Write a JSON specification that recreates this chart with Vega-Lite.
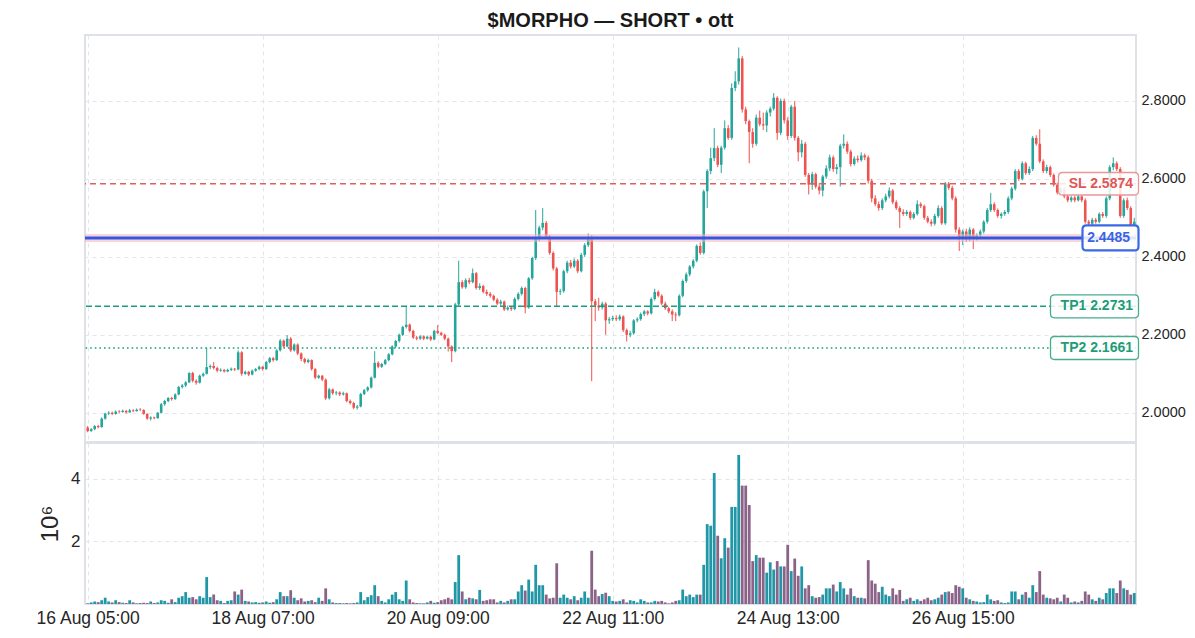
{
  "$schema": "https://vega.github.io/schema/vega-lite/v6.json",
  "background": "white",
  "padding": {"left": 34, "top": 10, "right": 5, "bottom": 5},
  "config": {
    "font": "Liberation Sans",
    "view": {"stroke": "#dfe1e8", "strokeWidth": 2},
    "axis": {"domain": false, "ticks": false, "gridColor": "#e3e5ea", "gridDash": [4, 4], "gridWidth": 1, "labelColor": "#262626"}
  },
  "datasets": {
    "levels": [
      {"name": "SL", "label": "SL 2.5874", "price": 2.5874},
      {"name": "Entry", "label": "2.4485", "price": 2.4485},
      {"name": "TP1", "label": "TP1 2.2731", "price": 2.2731},
      {"name": "TP2", "label": "TP2 2.1661", "price": 2.1661}
    ],
    "ohlc": [
      {"t":"2025-08-16T05:00","o":1.962,"h":1.966,"l":1.95,"c":1.953,"v":0.02},
      {"t":"2025-08-16T06:00","o":1.953,"h":1.961,"l":1.951,"c":1.958,"v":0.05},
      {"t":"2025-08-16T07:00","o":1.958,"h":1.968,"l":1.955,"c":1.966,"v":0.08},
      {"t":"2025-08-16T08:00","o":1.966,"h":1.969,"l":1.96,"c":1.963,"v":0.06},
      {"t":"2025-08-16T09:00","o":1.963,"h":1.988,"l":1.962,"c":1.985,"v":0.12},
      {"t":"2025-08-16T10:00","o":1.985,"h":2.0,"l":1.982,"c":1.998,"v":0.2},
      {"t":"2025-08-16T11:00","o":1.998,"h":2.004,"l":1.994,"c":2.0,"v":0.08},
      {"t":"2025-08-16T12:00","o":2.0,"h":2.003,"l":1.994,"c":1.997,"v":0.05},
      {"t":"2025-08-16T13:00","o":1.997,"h":2.006,"l":1.995,"c":2.003,"v":0.12},
      {"t":"2025-08-16T14:00","o":2.003,"h":2.007,"l":1.999,"c":2.002,"v":0.06},
      {"t":"2025-08-16T15:00","o":2.002,"h":2.008,"l":2.0,"c":2.005,"v":0.04},
      {"t":"2025-08-16T16:00","o":2.005,"h":2.007,"l":1.998,"c":2.001,"v":0.03},
      {"t":"2025-08-16T17:00","o":2.001,"h":2.01,"l":2.0,"c":2.006,"v":0.12},
      {"t":"2025-08-16T18:00","o":2.006,"h":2.009,"l":2.002,"c":2.004,"v":0.05},
      {"t":"2025-08-16T19:00","o":2.004,"h":2.011,"l":2.003,"c":2.008,"v":0.02},
      {"t":"2025-08-16T20:00","o":2.008,"h":2.012,"l":2.004,"c":2.007,"v":0.03},
      {"t":"2025-08-16T21:00","o":2.007,"h":2.009,"l":1.995,"c":1.997,"v":0.04},
      {"t":"2025-08-16T22:00","o":1.997,"h":1.999,"l":1.982,"c":1.985,"v":0.03},
      {"t":"2025-08-16T23:00","o":1.985,"h":1.991,"l":1.98,"c":1.988,"v":0.08},
      {"t":"2025-08-17T00:00","o":1.988,"h":1.99,"l":1.983,"c":1.986,"v":0.03},
      {"t":"2025-08-17T01:00","o":1.986,"h":2.002,"l":1.985,"c":2.0,"v":0.05},
      {"t":"2025-08-17T02:00","o":2.0,"h":2.025,"l":1.998,"c":2.022,"v":0.12},
      {"t":"2025-08-17T03:00","o":2.022,"h":2.033,"l":2.018,"c":2.03,"v":0.1},
      {"t":"2025-08-17T04:00","o":2.03,"h":2.04,"l":2.027,"c":2.038,"v":0.04},
      {"t":"2025-08-17T05:00","o":2.038,"h":2.041,"l":2.031,"c":2.035,"v":0.15},
      {"t":"2025-08-17T06:00","o":2.035,"h":2.05,"l":2.033,"c":2.047,"v":0.06},
      {"t":"2025-08-17T07:00","o":2.047,"h":2.069,"l":2.045,"c":2.066,"v":0.2},
      {"t":"2025-08-17T08:00","o":2.066,"h":2.074,"l":2.062,"c":2.07,"v":0.25},
      {"t":"2025-08-17T09:00","o":2.07,"h":2.081,"l":2.066,"c":2.078,"v":0.38},
      {"t":"2025-08-17T10:00","o":2.078,"h":2.104,"l":2.076,"c":2.102,"v":0.2},
      {"t":"2025-08-17T11:00","o":2.102,"h":2.105,"l":2.078,"c":2.082,"v":0.22},
      {"t":"2025-08-17T12:00","o":2.082,"h":2.086,"l":2.072,"c":2.077,"v":0.15},
      {"t":"2025-08-17T13:00","o":2.077,"h":2.098,"l":2.075,"c":2.095,"v":0.25},
      {"t":"2025-08-17T14:00","o":2.095,"h":2.103,"l":2.092,"c":2.1,"v":0.2},
      {"t":"2025-08-17T15:00","o":2.1,"h":2.167,"l":2.098,"c":2.117,"v":0.86},
      {"t":"2025-08-17T16:00","o":2.117,"h":2.124,"l":2.112,"c":2.12,"v":0.22},
      {"t":"2025-08-17T17:00","o":2.12,"h":2.13,"l":2.111,"c":2.115,"v":0.3},
      {"t":"2025-08-17T18:00","o":2.115,"h":2.118,"l":2.104,"c":2.108,"v":0.12},
      {"t":"2025-08-17T19:00","o":2.108,"h":2.114,"l":2.105,"c":2.11,"v":0.1},
      {"t":"2025-08-17T20:00","o":2.11,"h":2.112,"l":2.103,"c":2.106,"v":0.03},
      {"t":"2025-08-17T21:00","o":2.106,"h":2.113,"l":2.104,"c":2.11,"v":0.1},
      {"t":"2025-08-17T22:00","o":2.11,"h":2.116,"l":2.107,"c":2.113,"v":0.12},
      {"t":"2025-08-17T23:00","o":2.113,"h":2.115,"l":2.107,"c":2.111,"v":0.4},
      {"t":"2025-08-18T00:00","o":2.111,"h":2.16,"l":2.109,"c":2.155,"v":0.3},
      {"t":"2025-08-18T01:00","o":2.155,"h":2.158,"l":2.095,"c":2.1,"v":0.46},
      {"t":"2025-08-18T02:00","o":2.1,"h":2.108,"l":2.097,"c":2.105,"v":0.1},
      {"t":"2025-08-18T03:00","o":2.105,"h":2.107,"l":2.094,"c":2.098,"v":0.08},
      {"t":"2025-08-18T04:00","o":2.098,"h":2.111,"l":2.096,"c":2.108,"v":0.05},
      {"t":"2025-08-18T05:00","o":2.108,"h":2.115,"l":2.105,"c":2.112,"v":0.06},
      {"t":"2025-08-18T06:00","o":2.112,"h":2.121,"l":2.109,"c":2.118,"v":0.04},
      {"t":"2025-08-18T07:00","o":2.118,"h":2.12,"l":2.108,"c":2.112,"v":0.05},
      {"t":"2025-08-18T08:00","o":2.112,"h":2.133,"l":2.11,"c":2.13,"v":0.08},
      {"t":"2025-08-18T09:00","o":2.13,"h":2.143,"l":2.127,"c":2.14,"v":0.04},
      {"t":"2025-08-18T10:00","o":2.14,"h":2.143,"l":2.131,"c":2.135,"v":0.06},
      {"t":"2025-08-18T11:00","o":2.135,"h":2.163,"l":2.133,"c":2.16,"v":0.15},
      {"t":"2025-08-18T12:00","o":2.16,"h":2.189,"l":2.157,"c":2.185,"v":0.38},
      {"t":"2025-08-18T13:00","o":2.185,"h":2.188,"l":2.167,"c":2.17,"v":0.25},
      {"t":"2025-08-18T14:00","o":2.17,"h":2.199,"l":2.168,"c":2.19,"v":0.25},
      {"t":"2025-08-18T15:00","o":2.19,"h":2.194,"l":2.156,"c":2.16,"v":0.44},
      {"t":"2025-08-18T16:00","o":2.16,"h":2.178,"l":2.157,"c":2.175,"v":0.2},
      {"t":"2025-08-18T17:00","o":2.175,"h":2.178,"l":2.148,"c":2.152,"v":0.12},
      {"t":"2025-08-18T18:00","o":2.152,"h":2.155,"l":2.132,"c":2.138,"v":0.18},
      {"t":"2025-08-18T19:00","o":2.138,"h":2.141,"l":2.126,"c":2.13,"v":0.08},
      {"t":"2025-08-18T20:00","o":2.13,"h":2.139,"l":2.127,"c":2.135,"v":0.1},
      {"t":"2025-08-18T21:00","o":2.135,"h":2.137,"l":2.108,"c":2.112,"v":0.12},
      {"t":"2025-08-18T22:00","o":2.112,"h":2.115,"l":2.086,"c":2.09,"v":0.06},
      {"t":"2025-08-18T23:00","o":2.09,"h":2.098,"l":2.087,"c":2.095,"v":0.2},
      {"t":"2025-08-19T00:00","o":2.095,"h":2.097,"l":2.081,"c":2.085,"v":0.1},
      {"t":"2025-08-19T01:00","o":2.085,"h":2.088,"l":2.033,"c":2.037,"v":0.5},
      {"t":"2025-08-19T02:00","o":2.037,"h":2.064,"l":2.034,"c":2.06,"v":0.15},
      {"t":"2025-08-19T03:00","o":2.06,"h":2.062,"l":2.046,"c":2.05,"v":0.05},
      {"t":"2025-08-19T04:00","o":2.05,"h":2.056,"l":2.045,"c":2.052,"v":0.03},
      {"t":"2025-08-19T05:00","o":2.052,"h":2.055,"l":2.043,"c":2.047,"v":0.03},
      {"t":"2025-08-19T06:00","o":2.047,"h":2.054,"l":2.044,"c":2.05,"v":0.02},
      {"t":"2025-08-19T07:00","o":2.05,"h":2.052,"l":2.027,"c":2.03,"v":0.03},
      {"t":"2025-08-19T08:00","o":2.03,"h":2.034,"l":2.021,"c":2.025,"v":0.02},
      {"t":"2025-08-19T09:00","o":2.025,"h":2.028,"l":2.009,"c":2.013,"v":0.03},
      {"t":"2025-08-19T10:00","o":2.013,"h":2.02,"l":2.008,"c":2.016,"v":0.05},
      {"t":"2025-08-19T11:00","o":2.016,"h":2.051,"l":2.014,"c":2.048,"v":0.38},
      {"t":"2025-08-19T12:00","o":2.048,"h":2.061,"l":2.045,"c":2.058,"v":0.12},
      {"t":"2025-08-19T13:00","o":2.058,"h":2.068,"l":2.054,"c":2.065,"v":0.22},
      {"t":"2025-08-19T14:00","o":2.065,"h":2.093,"l":2.062,"c":2.09,"v":0.28},
      {"t":"2025-08-19T15:00","o":2.09,"h":2.158,"l":2.088,"c":2.128,"v":0.6},
      {"t":"2025-08-19T16:00","o":2.128,"h":2.132,"l":2.114,"c":2.118,"v":0.25},
      {"t":"2025-08-19T17:00","o":2.118,"h":2.128,"l":2.115,"c":2.125,"v":0.1},
      {"t":"2025-08-19T18:00","o":2.125,"h":2.138,"l":2.122,"c":2.135,"v":0.05},
      {"t":"2025-08-19T19:00","o":2.135,"h":2.153,"l":2.132,"c":2.15,"v":0.15},
      {"t":"2025-08-19T20:00","o":2.15,"h":2.173,"l":2.147,"c":2.17,"v":0.3},
      {"t":"2025-08-19T21:00","o":2.17,"h":2.187,"l":2.166,"c":2.184,"v":0.38},
      {"t":"2025-08-19T22:00","o":2.184,"h":2.203,"l":2.18,"c":2.2,"v":0.15},
      {"t":"2025-08-19T23:00","o":2.2,"h":2.223,"l":2.197,"c":2.22,"v":0.1},
      {"t":"2025-08-20T00:00","o":2.22,"h":2.273,"l":2.216,"c":2.226,"v":0.75},
      {"t":"2025-08-20T01:00","o":2.226,"h":2.229,"l":2.206,"c":2.21,"v":0.15},
      {"t":"2025-08-20T02:00","o":2.21,"h":2.213,"l":2.189,"c":2.193,"v":0.05},
      {"t":"2025-08-20T03:00","o":2.193,"h":2.197,"l":2.186,"c":2.19,"v":0.03},
      {"t":"2025-08-20T04:00","o":2.19,"h":2.199,"l":2.187,"c":2.196,"v":0.02},
      {"t":"2025-08-20T05:00","o":2.196,"h":2.198,"l":2.186,"c":2.19,"v":0.02},
      {"t":"2025-08-20T06:00","o":2.19,"h":2.198,"l":2.188,"c":2.195,"v":0.05},
      {"t":"2025-08-20T07:00","o":2.195,"h":2.197,"l":2.184,"c":2.188,"v":0.1},
      {"t":"2025-08-20T08:00","o":2.188,"h":2.213,"l":2.186,"c":2.21,"v":0.04},
      {"t":"2025-08-20T09:00","o":2.21,"h":2.225,"l":2.202,"c":2.205,"v":0.06},
      {"t":"2025-08-20T10:00","o":2.205,"h":2.208,"l":2.197,"c":2.2,"v":0.12},
      {"t":"2025-08-20T11:00","o":2.2,"h":2.203,"l":2.186,"c":2.19,"v":0.15},
      {"t":"2025-08-20T12:00","o":2.19,"h":2.193,"l":2.157,"c":2.17,"v":0.2},
      {"t":"2025-08-20T13:00","o":2.17,"h":2.173,"l":2.13,"c":2.158,"v":0.15},
      {"t":"2025-08-20T14:00","o":2.158,"h":2.282,"l":2.155,"c":2.278,"v":0.7},
      {"t":"2025-08-20T15:00","o":2.278,"h":2.39,"l":2.272,"c":2.335,"v":1.56},
      {"t":"2025-08-20T16:00","o":2.335,"h":2.34,"l":2.318,"c":2.322,"v":0.4},
      {"t":"2025-08-20T17:00","o":2.322,"h":2.345,"l":2.318,"c":2.34,"v":0.15},
      {"t":"2025-08-20T18:00","o":2.34,"h":2.346,"l":2.33,"c":2.335,"v":0.2},
      {"t":"2025-08-20T19:00","o":2.335,"h":2.37,"l":2.332,"c":2.358,"v":0.18},
      {"t":"2025-08-20T20:00","o":2.358,"h":2.361,"l":2.316,"c":2.32,"v":0.15},
      {"t":"2025-08-20T21:00","o":2.32,"h":2.332,"l":2.315,"c":2.325,"v":0.45},
      {"t":"2025-08-20T22:00","o":2.325,"h":2.328,"l":2.306,"c":2.31,"v":0.1},
      {"t":"2025-08-20T23:00","o":2.31,"h":2.316,"l":2.3,"c":2.305,"v":0.12},
      {"t":"2025-08-21T00:00","o":2.305,"h":2.31,"l":2.295,"c":2.3,"v":0.15},
      {"t":"2025-08-21T01:00","o":2.3,"h":2.303,"l":2.286,"c":2.29,"v":0.15},
      {"t":"2025-08-21T02:00","o":2.29,"h":2.294,"l":2.276,"c":2.28,"v":0.05},
      {"t":"2025-08-21T03:00","o":2.28,"h":2.29,"l":2.275,"c":2.285,"v":0.1},
      {"t":"2025-08-21T04:00","o":2.285,"h":2.288,"l":2.261,"c":2.265,"v":0.05},
      {"t":"2025-08-21T05:00","o":2.265,"h":2.275,"l":2.262,"c":2.27,"v":0.1},
      {"t":"2025-08-21T06:00","o":2.27,"h":2.274,"l":2.261,"c":2.266,"v":0.15},
      {"t":"2025-08-21T07:00","o":2.266,"h":2.296,"l":2.263,"c":2.292,"v":0.15},
      {"t":"2025-08-21T08:00","o":2.292,"h":2.309,"l":2.288,"c":2.305,"v":0.4},
      {"t":"2025-08-21T09:00","o":2.305,"h":2.324,"l":2.301,"c":2.32,"v":0.6},
      {"t":"2025-08-21T10:00","o":2.32,"h":2.323,"l":2.255,"c":2.27,"v":0.43},
      {"t":"2025-08-21T11:00","o":2.27,"h":2.348,"l":2.267,"c":2.345,"v":0.78},
      {"t":"2025-08-21T12:00","o":2.345,"h":2.4,"l":2.341,"c":2.397,"v":0.4},
      {"t":"2025-08-21T13:00","o":2.397,"h":2.52,"l":2.392,"c":2.45,"v":1.25},
      {"t":"2025-08-21T14:00","o":2.45,"h":2.48,"l":2.44,"c":2.475,"v":0.6},
      {"t":"2025-08-21T15:00","o":2.475,"h":2.525,"l":2.468,"c":2.487,"v":0.6},
      {"t":"2025-08-21T16:00","o":2.487,"h":2.492,"l":2.447,"c":2.452,"v":0.3},
      {"t":"2025-08-21T17:00","o":2.452,"h":2.456,"l":2.405,"c":2.41,"v":0.18},
      {"t":"2025-08-21T18:00","o":2.41,"h":2.414,"l":2.365,"c":2.37,"v":0.2},
      {"t":"2025-08-21T19:00","o":2.37,"h":2.374,"l":2.273,"c":2.31,"v":1.3},
      {"t":"2025-08-21T20:00","o":2.31,"h":2.318,"l":2.302,"c":2.312,"v":0.2},
      {"t":"2025-08-21T21:00","o":2.312,"h":2.367,"l":2.308,"c":2.363,"v":0.3},
      {"t":"2025-08-21T22:00","o":2.363,"h":2.39,"l":2.358,"c":2.385,"v":0.2},
      {"t":"2025-08-21T23:00","o":2.385,"h":2.392,"l":2.37,"c":2.375,"v":0.15},
      {"t":"2025-08-22T00:00","o":2.375,"h":2.396,"l":2.371,"c":2.39,"v":0.25},
      {"t":"2025-08-22T01:00","o":2.39,"h":2.394,"l":2.358,"c":2.363,"v":0.12},
      {"t":"2025-08-22T02:00","o":2.363,"h":2.41,"l":2.36,"c":2.405,"v":0.2},
      {"t":"2025-08-22T03:00","o":2.405,"h":2.435,"l":2.4,"c":2.43,"v":0.4},
      {"t":"2025-08-22T04:00","o":2.43,"h":2.46,"l":2.425,"c":2.445,"v":0.2},
      {"t":"2025-08-22T05:00","o":2.445,"h":2.455,"l":2.081,"c":2.286,"v":1.7},
      {"t":"2025-08-22T06:00","o":2.286,"h":2.292,"l":2.235,"c":2.275,"v":0.46},
      {"t":"2025-08-22T07:00","o":2.275,"h":2.295,"l":2.262,"c":2.27,"v":0.25},
      {"t":"2025-08-22T08:00","o":2.27,"h":2.285,"l":2.265,"c":2.28,"v":0.32},
      {"t":"2025-08-22T09:00","o":2.28,"h":2.284,"l":2.2,"c":2.237,"v":0.36},
      {"t":"2025-08-22T10:00","o":2.237,"h":2.246,"l":2.228,"c":2.24,"v":0.25},
      {"t":"2025-08-22T11:00","o":2.24,"h":2.249,"l":2.235,"c":2.243,"v":0.1},
      {"t":"2025-08-22T12:00","o":2.243,"h":2.25,"l":2.235,"c":2.24,"v":0.08},
      {"t":"2025-08-22T13:00","o":2.24,"h":2.252,"l":2.236,"c":2.247,"v":0.1},
      {"t":"2025-08-22T14:00","o":2.247,"h":2.25,"l":2.207,"c":2.212,"v":0.15},
      {"t":"2025-08-22T15:00","o":2.212,"h":2.216,"l":2.183,"c":2.2,"v":0.05},
      {"t":"2025-08-22T16:00","o":2.2,"h":2.21,"l":2.194,"c":2.204,"v":0.12},
      {"t":"2025-08-22T17:00","o":2.204,"h":2.24,"l":2.2,"c":2.237,"v":0.1},
      {"t":"2025-08-22T18:00","o":2.237,"h":2.245,"l":2.232,"c":2.24,"v":0.05},
      {"t":"2025-08-22T19:00","o":2.24,"h":2.257,"l":2.236,"c":2.253,"v":0.15},
      {"t":"2025-08-22T20:00","o":2.253,"h":2.264,"l":2.248,"c":2.26,"v":0.1},
      {"t":"2025-08-22T21:00","o":2.26,"h":2.263,"l":2.25,"c":2.255,"v":0.05},
      {"t":"2025-08-22T22:00","o":2.255,"h":2.296,"l":2.252,"c":2.292,"v":0.05},
      {"t":"2025-08-22T23:00","o":2.292,"h":2.318,"l":2.288,"c":2.31,"v":0.1},
      {"t":"2025-08-23T00:00","o":2.31,"h":2.314,"l":2.296,"c":2.3,"v":0.08},
      {"t":"2025-08-23T01:00","o":2.3,"h":2.304,"l":2.276,"c":2.28,"v":0.1},
      {"t":"2025-08-23T02:00","o":2.28,"h":2.285,"l":2.264,"c":2.268,"v":0.05},
      {"t":"2025-08-23T03:00","o":2.268,"h":2.272,"l":2.255,"c":2.26,"v":0.02},
      {"t":"2025-08-23T04:00","o":2.26,"h":2.265,"l":2.235,"c":2.252,"v":0.05},
      {"t":"2025-08-23T05:00","o":2.252,"h":2.258,"l":2.235,"c":2.25,"v":0.1},
      {"t":"2025-08-23T06:00","o":2.25,"h":2.304,"l":2.247,"c":2.3,"v":0.12},
      {"t":"2025-08-23T07:00","o":2.3,"h":2.342,"l":2.296,"c":2.338,"v":0.46},
      {"t":"2025-08-23T08:00","o":2.338,"h":2.36,"l":2.333,"c":2.355,"v":0.25},
      {"t":"2025-08-23T09:00","o":2.355,"h":2.379,"l":2.35,"c":2.375,"v":0.3},
      {"t":"2025-08-23T10:00","o":2.375,"h":2.394,"l":2.37,"c":2.39,"v":0.22},
      {"t":"2025-08-23T11:00","o":2.39,"h":2.432,"l":2.386,"c":2.428,"v":0.3},
      {"t":"2025-08-23T12:00","o":2.428,"h":2.437,"l":2.405,"c":2.41,"v":0.3},
      {"t":"2025-08-23T13:00","o":2.41,"h":2.572,"l":2.406,"c":2.568,"v":1.25},
      {"t":"2025-08-23T14:00","o":2.568,"h":2.625,"l":2.525,"c":2.62,"v":2.55},
      {"t":"2025-08-23T15:00","o":2.62,"h":2.68,"l":2.612,"c":2.653,"v":2.5},
      {"t":"2025-08-23T16:00","o":2.653,"h":2.73,"l":2.645,"c":2.679,"v":4.18},
      {"t":"2025-08-23T17:00","o":2.679,"h":2.685,"l":2.63,"c":2.636,"v":2.18},
      {"t":"2025-08-23T18:00","o":2.636,"h":2.685,"l":2.615,"c":2.68,"v":1.46},
      {"t":"2025-08-23T19:00","o":2.68,"h":2.75,"l":2.675,"c":2.73,"v":2.1},
      {"t":"2025-08-23T20:00","o":2.73,"h":2.738,"l":2.7,"c":2.705,"v":1.8},
      {"t":"2025-08-23T21:00","o":2.705,"h":2.845,"l":2.7,"c":2.833,"v":3.1},
      {"t":"2025-08-23T22:00","o":2.833,"h":2.876,"l":2.825,"c":2.85,"v":3.1},
      {"t":"2025-08-23T23:00","o":2.85,"h":2.937,"l":2.842,"c":2.909,"v":4.76},
      {"t":"2025-08-24T00:00","o":2.909,"h":2.915,"l":2.77,"c":2.778,"v":3.78},
      {"t":"2025-08-24T01:00","o":2.778,"h":2.785,"l":2.74,"c":2.748,"v":3.78},
      {"t":"2025-08-24T02:00","o":2.748,"h":2.752,"l":2.64,"c":2.72,"v":3.16},
      {"t":"2025-08-24T03:00","o":2.72,"h":2.73,"l":2.68,"c":2.69,"v":1.37},
      {"t":"2025-08-24T04:00","o":2.69,"h":2.765,"l":2.685,"c":2.757,"v":1.56},
      {"t":"2025-08-24T05:00","o":2.757,"h":2.775,"l":2.735,"c":2.74,"v":1.48},
      {"t":"2025-08-24T06:00","o":2.74,"h":2.77,"l":2.725,"c":2.737,"v":1.48},
      {"t":"2025-08-24T07:00","o":2.737,"h":2.776,"l":2.72,"c":2.77,"v":1.0},
      {"t":"2025-08-24T08:00","o":2.77,"h":2.785,"l":2.76,"c":2.78,"v":1.33},
      {"t":"2025-08-24T09:00","o":2.78,"h":2.82,"l":2.775,"c":2.808,"v":1.1},
      {"t":"2025-08-24T10:00","o":2.808,"h":2.812,"l":2.7,"c":2.718,"v":1.37},
      {"t":"2025-08-24T11:00","o":2.718,"h":2.806,"l":2.712,"c":2.8,"v":1.2},
      {"t":"2025-08-24T12:00","o":2.8,"h":2.806,"l":2.742,"c":2.75,"v":1.2},
      {"t":"2025-08-24T13:00","o":2.75,"h":2.758,"l":2.7,"c":2.71,"v":1.89},
      {"t":"2025-08-24T14:00","o":2.71,"h":2.79,"l":2.705,"c":2.785,"v":1.05},
      {"t":"2025-08-24T15:00","o":2.785,"h":2.8,"l":2.698,"c":2.705,"v":1.45},
      {"t":"2025-08-24T16:00","o":2.705,"h":2.71,"l":2.645,"c":2.668,"v":0.9},
      {"t":"2025-08-24T17:00","o":2.668,"h":2.7,"l":2.655,"c":2.69,"v":1.2},
      {"t":"2025-08-24T18:00","o":2.69,"h":2.695,"l":2.605,"c":2.61,"v":0.5},
      {"t":"2025-08-24T19:00","o":2.61,"h":2.615,"l":2.56,"c":2.585,"v":0.6},
      {"t":"2025-08-24T20:00","o":2.585,"h":2.618,"l":2.572,"c":2.612,"v":0.25},
      {"t":"2025-08-24T21:00","o":2.612,"h":2.616,"l":2.575,"c":2.58,"v":0.2},
      {"t":"2025-08-24T22:00","o":2.58,"h":2.59,"l":2.56,"c":2.57,"v":0.22},
      {"t":"2025-08-24T23:00","o":2.57,"h":2.61,"l":2.555,"c":2.606,"v":0.3},
      {"t":"2025-08-25T00:00","o":2.606,"h":2.635,"l":2.6,"c":2.627,"v":0.5},
      {"t":"2025-08-25T01:00","o":2.627,"h":2.662,"l":2.62,"c":2.655,"v":0.5},
      {"t":"2025-08-25T02:00","o":2.655,"h":2.66,"l":2.618,"c":2.625,"v":0.62},
      {"t":"2025-08-25T03:00","o":2.625,"h":2.638,"l":2.612,"c":2.63,"v":0.4},
      {"t":"2025-08-25T04:00","o":2.63,"h":2.69,"l":2.58,"c":2.685,"v":0.7},
      {"t":"2025-08-25T05:00","o":2.685,"h":2.714,"l":2.678,"c":2.69,"v":0.5},
      {"t":"2025-08-25T06:00","o":2.69,"h":2.696,"l":2.664,"c":2.67,"v":0.3},
      {"t":"2025-08-25T07:00","o":2.67,"h":2.675,"l":2.632,"c":2.638,"v":0.5},
      {"t":"2025-08-25T08:00","o":2.638,"h":2.658,"l":2.634,"c":2.652,"v":0.25},
      {"t":"2025-08-25T09:00","o":2.652,"h":2.66,"l":2.642,"c":2.648,"v":0.2},
      {"t":"2025-08-25T10:00","o":2.648,"h":2.668,"l":2.644,"c":2.66,"v":0.2},
      {"t":"2025-08-25T11:00","o":2.66,"h":2.665,"l":2.648,"c":2.655,"v":0.18},
      {"t":"2025-08-25T12:00","o":2.655,"h":2.66,"l":2.588,"c":2.595,"v":1.4},
      {"t":"2025-08-25T13:00","o":2.595,"h":2.6,"l":2.54,"c":2.55,"v":0.75},
      {"t":"2025-08-25T14:00","o":2.55,"h":2.558,"l":2.53,"c":2.535,"v":0.65},
      {"t":"2025-08-25T15:00","o":2.535,"h":2.542,"l":2.518,"c":2.525,"v":0.38},
      {"t":"2025-08-25T16:00","o":2.525,"h":2.55,"l":2.52,"c":2.545,"v":0.55},
      {"t":"2025-08-25T17:00","o":2.545,"h":2.562,"l":2.54,"c":2.555,"v":0.3},
      {"t":"2025-08-25T18:00","o":2.555,"h":2.578,"l":2.55,"c":2.57,"v":0.25},
      {"t":"2025-08-25T19:00","o":2.57,"h":2.574,"l":2.535,"c":2.54,"v":0.5},
      {"t":"2025-08-25T20:00","o":2.54,"h":2.545,"l":2.52,"c":2.525,"v":0.3},
      {"t":"2025-08-25T21:00","o":2.525,"h":2.53,"l":2.474,"c":2.515,"v":0.45},
      {"t":"2025-08-25T22:00","o":2.515,"h":2.522,"l":2.505,"c":2.51,"v":0.1},
      {"t":"2025-08-25T23:00","o":2.51,"h":2.52,"l":2.505,"c":2.515,"v":0.15},
      {"t":"2025-08-26T00:00","o":2.515,"h":2.519,"l":2.495,"c":2.5,"v":0.2},
      {"t":"2025-08-26T01:00","o":2.5,"h":2.515,"l":2.496,"c":2.51,"v":0.1},
      {"t":"2025-08-26T02:00","o":2.51,"h":2.545,"l":2.506,"c":2.535,"v":0.15},
      {"t":"2025-08-26T03:00","o":2.535,"h":2.54,"l":2.525,"c":2.53,"v":0.1},
      {"t":"2025-08-26T04:00","o":2.53,"h":2.534,"l":2.495,"c":2.5,"v":0.15},
      {"t":"2025-08-26T05:00","o":2.5,"h":2.505,"l":2.486,"c":2.49,"v":0.2},
      {"t":"2025-08-26T06:00","o":2.49,"h":2.496,"l":2.478,"c":2.485,"v":0.12},
      {"t":"2025-08-26T07:00","o":2.485,"h":2.51,"l":2.48,"c":2.505,"v":0.15},
      {"t":"2025-08-26T08:00","o":2.505,"h":2.532,"l":2.5,"c":2.525,"v":0.2},
      {"t":"2025-08-26T09:00","o":2.525,"h":2.53,"l":2.482,"c":2.486,"v":0.3},
      {"t":"2025-08-26T10:00","o":2.486,"h":2.592,"l":2.482,"c":2.588,"v":0.38},
      {"t":"2025-08-26T11:00","o":2.588,"h":2.592,"l":2.572,"c":2.577,"v":0.4},
      {"t":"2025-08-26T12:00","o":2.577,"h":2.582,"l":2.545,"c":2.55,"v":0.35},
      {"t":"2025-08-26T13:00","o":2.55,"h":2.555,"l":2.462,"c":2.47,"v":0.6},
      {"t":"2025-08-26T14:00","o":2.47,"h":2.476,"l":2.415,"c":2.45,"v":0.55},
      {"t":"2025-08-26T15:00","o":2.45,"h":2.47,"l":2.43,"c":2.465,"v":0.5},
      {"t":"2025-08-26T16:00","o":2.465,"h":2.472,"l":2.438,"c":2.445,"v":0.2},
      {"t":"2025-08-26T17:00","o":2.445,"h":2.476,"l":2.44,"c":2.47,"v":0.15},
      {"t":"2025-08-26T18:00","o":2.47,"h":2.474,"l":2.42,"c":2.45,"v":0.1},
      {"t":"2025-08-26T19:00","o":2.45,"h":2.46,"l":2.442,"c":2.455,"v":0.08},
      {"t":"2025-08-26T20:00","o":2.455,"h":2.47,"l":2.45,"c":2.465,"v":0.05},
      {"t":"2025-08-26T21:00","o":2.465,"h":2.494,"l":2.46,"c":2.49,"v":0.06},
      {"t":"2025-08-26T22:00","o":2.49,"h":2.525,"l":2.485,"c":2.52,"v":0.3},
      {"t":"2025-08-26T23:00","o":2.52,"h":2.564,"l":2.515,"c":2.535,"v":0.15},
      {"t":"2025-08-27T00:00","o":2.535,"h":2.54,"l":2.515,"c":2.52,"v":0.1},
      {"t":"2025-08-27T01:00","o":2.52,"h":2.524,"l":2.5,"c":2.505,"v":0.12},
      {"t":"2025-08-27T02:00","o":2.505,"h":2.514,"l":2.498,"c":2.51,"v":0.05},
      {"t":"2025-08-27T03:00","o":2.51,"h":2.52,"l":2.505,"c":2.515,"v":0.03},
      {"t":"2025-08-27T04:00","o":2.515,"h":2.555,"l":2.51,"c":2.55,"v":0.05},
      {"t":"2025-08-27T05:00","o":2.55,"h":2.58,"l":2.545,"c":2.575,"v":0.4},
      {"t":"2025-08-27T06:00","o":2.575,"h":2.625,"l":2.57,"c":2.62,"v":0.4},
      {"t":"2025-08-27T07:00","o":2.62,"h":2.625,"l":2.595,"c":2.6,"v":0.15},
      {"t":"2025-08-27T08:00","o":2.6,"h":2.645,"l":2.596,"c":2.64,"v":0.3},
      {"t":"2025-08-27T09:00","o":2.64,"h":2.644,"l":2.61,"c":2.615,"v":0.38},
      {"t":"2025-08-27T10:00","o":2.615,"h":2.632,"l":2.61,"c":2.625,"v":0.2},
      {"t":"2025-08-27T11:00","o":2.625,"h":2.71,"l":2.62,"c":2.705,"v":0.6},
      {"t":"2025-08-27T12:00","o":2.705,"h":2.712,"l":2.685,"c":2.69,"v":0.38},
      {"t":"2025-08-27T13:00","o":2.69,"h":2.727,"l":2.64,"c":2.645,"v":1.05},
      {"t":"2025-08-27T14:00","o":2.645,"h":2.65,"l":2.615,"c":2.62,"v":0.3},
      {"t":"2025-08-27T15:00","o":2.62,"h":2.636,"l":2.614,"c":2.63,"v":0.2},
      {"t":"2025-08-27T16:00","o":2.63,"h":2.634,"l":2.605,"c":2.61,"v":0.18},
      {"t":"2025-08-27T17:00","o":2.61,"h":2.614,"l":2.58,"c":2.585,"v":0.15},
      {"t":"2025-08-27T18:00","o":2.585,"h":2.59,"l":2.56,"c":2.565,"v":0.2},
      {"t":"2025-08-27T19:00","o":2.565,"h":2.58,"l":2.56,"c":2.575,"v":0.08},
      {"t":"2025-08-27T20:00","o":2.575,"h":2.579,"l":2.55,"c":2.555,"v":0.3},
      {"t":"2025-08-27T21:00","o":2.555,"h":2.56,"l":2.54,"c":2.545,"v":0.2},
      {"t":"2025-08-27T22:00","o":2.545,"h":2.556,"l":2.54,"c":2.552,"v":0.05},
      {"t":"2025-08-27T23:00","o":2.552,"h":2.556,"l":2.54,"c":2.545,"v":0.08},
      {"t":"2025-08-28T00:00","o":2.545,"h":2.56,"l":2.542,"c":2.555,"v":0.05},
      {"t":"2025-08-28T01:00","o":2.555,"h":2.558,"l":2.54,"c":2.545,"v":0.1},
      {"t":"2025-08-28T02:00","o":2.545,"h":2.55,"l":2.485,"c":2.49,"v":0.4},
      {"t":"2025-08-28T03:00","o":2.49,"h":2.495,"l":2.478,"c":2.485,"v":0.3},
      {"t":"2025-08-28T04:00","o":2.485,"h":2.5,"l":2.48,"c":2.495,"v":0.15},
      {"t":"2025-08-28T05:00","o":2.495,"h":2.5,"l":2.485,"c":2.49,"v":0.1},
      {"t":"2025-08-28T06:00","o":2.49,"h":2.514,"l":2.486,"c":2.51,"v":0.2},
      {"t":"2025-08-28T07:00","o":2.51,"h":2.515,"l":2.5,"c":2.505,"v":0.15},
      {"t":"2025-08-28T08:00","o":2.505,"h":2.555,"l":2.5,"c":2.55,"v":0.35},
      {"t":"2025-08-28T09:00","o":2.55,"h":2.635,"l":2.545,"c":2.63,"v":0.5},
      {"t":"2025-08-28T10:00","o":2.63,"h":2.655,"l":2.622,"c":2.64,"v":0.5},
      {"t":"2025-08-28T11:00","o":2.64,"h":2.645,"l":2.62,"c":2.625,"v":0.35},
      {"t":"2025-08-28T12:00","o":2.625,"h":2.63,"l":2.5,"c":2.505,"v":0.75},
      {"t":"2025-08-28T13:00","o":2.505,"h":2.55,"l":2.5,"c":2.545,"v":0.5},
      {"t":"2025-08-28T14:00","o":2.545,"h":2.552,"l":2.52,"c":2.525,"v":0.45},
      {"t":"2025-08-28T15:00","o":2.525,"h":2.53,"l":2.475,"c":2.48,"v":0.3},
      {"t":"2025-08-28T16:00","o":2.48,"h":2.5,"l":2.476,"c":2.49,"v":0.35}
    ]
  },
  "spacing": -1,
  "vconcat": [
    {
      "width": 1051,
      "height": 407,
      "title": {"text": "$MORPHO — SHORT • ott", "fontSize": 20, "fontWeight": "bold", "color": "#1a1a1a", "offset": 4, "frame": "group", "anchor": "middle"},
      "data": {"name": "ohlc"},
      "layer": [
        {
          "mark": {"type": "rule", "strokeWidth": 1},
          "encoding": {
            "x": {
              "field": "t", "type": "temporal", "title": null,
              "scale": {"domain": [{"year": 2025, "month": 8, "date": 16, "hours": 4, "minutes": 14}, {"year": 2025, "month": 8, "date": 28, "hours": 16, "minutes": 30}], "padding": 0, "nice": false},
              "axis": {
                "labels": false, "grid": true,
                "values": [
                  {"year": 2025, "month": 8, "date": 16, "hours": 5},
                  {"year": 2025, "month": 8, "date": 18, "hours": 7},
                  {"year": 2025, "month": 8, "date": 20, "hours": 9},
                  {"year": 2025, "month": 8, "date": 22, "hours": 11},
                  {"year": 2025, "month": 8, "date": 24, "hours": 13},
                  {"year": 2025, "month": 8, "date": 26, "hours": 15}
                ]
              }
            },
            "y": {
              "field": "l", "type": "quantitative", "title": null,
              "scale": {"domain": [1.925, 2.969], "nice": false, "zero": false},
              "axis": {"orient": "right", "values": [2.0, 2.2, 2.4, 2.6, 2.8], "format": ".4f", "labelFontSize": 14.5, "labelPadding": 5, "grid": true}
            },
            "y2": {"field": "h"},
            "color": {"condition": {"test": "datum.c >= datum.o", "value": "#26a69a"}, "value": "#ef5350"}
          }
        },
        {
          "mark": {"type": "bar", "size": 2.6},
          "encoding": {
            "x": {"field": "t", "type": "temporal", "scale": {"padding": 0}},
            "y": {"field": "o", "type": "quantitative", "title": null},
            "y2": {"field": "c"},
            "color": {"condition": {"test": "datum.c >= datum.o", "value": "#26a69a"}, "value": "#ef5350"}
          }
        },
        {
          "data": {"name": "levels"},
          "transform": [{"filter": "datum.name === 'Entry'"}],
          "mark": {"type": "rule", "color": "#f2b3b9", "strokeWidth": 8, "opacity": 0.55},
          "encoding": {"y": {"field": "price", "type": "quantitative", "title": null}}
        },
        {
          "data": {"name": "levels"},
          "transform": [{"filter": "datum.name === 'Entry'"}],
          "mark": {"type": "rule", "color": "#3556e3", "strokeWidth": 3},
          "encoding": {"y": {"field": "price", "type": "quantitative", "title": null}}
        },
        {
          "data": {"name": "levels"},
          "transform": [{"filter": "datum.name === 'SL'"}],
          "mark": {"type": "rule", "color": "#d9625f", "strokeWidth": 1.6, "strokeDash": [6, 4]},
          "encoding": {"y": {"field": "price", "type": "quantitative", "title": null}}
        },
        {
          "data": {"name": "levels"},
          "transform": [{"filter": "datum.name === 'TP1'"}],
          "mark": {"type": "rule", "color": "#1a9e7f", "strokeWidth": 1.6, "strokeDash": [6, 3]},
          "encoding": {"y": {"field": "price", "type": "quantitative", "title": null}}
        },
        {
          "data": {"name": "levels"},
          "transform": [{"filter": "datum.name === 'TP2'"}],
          "mark": {"type": "rule", "color": "#1a9e7f", "strokeWidth": 1.6, "strokeDash": [1.6, 3]},
          "encoding": {"y": {"field": "price", "type": "quantitative", "title": null}}
        },
        {
          "data": {"name": "levels"},
          "mark": {"type": "point", "filled": true, "fill": "white", "fillOpacity": 0.85, "opacity": 1, "size": 400, "xOffset": 2.5},
          "encoding": {
            "x": {"value": "width"},
            "y": {"field": "price", "type": "quantitative", "title": null},
            "shape": {
              "field": "name", "type": "nominal", "legend": null,
              "scale": {
                "domain": ["SL", "Entry", "TP1", "TP2"],
                "range": [
                  "M-7.6,-1.125 L-0.4,-1.125 Q0,-1.125 0,-0.725 L0,0.725 Q0,1.125 -0.4,1.125 L-7.6,1.125 Q-8,1.125 -8,0.725 L-8,-0.725 Q-8,-1.125 -7.6,-1.125 Z",
                  "M-5.2,-1.25 L-0.4,-1.25 Q0,-1.25 0,-0.85 L0,0.85 Q0,1.25 -0.4,1.25 L-5.2,1.25 Q-5.6,1.25 -5.6,0.85 L-5.6,-0.85 Q-5.6,-1.25 -5.2,-1.25 Z",
                  "M-8.4,-1.15 L-0.4,-1.15 Q0,-1.15 0,-0.75 L0,0.75 Q0,1.15 -0.4,1.15 L-8.4,1.15 Q-8.8,1.15 -8.8,0.75 L-8.8,-0.75 Q-8.8,-1.15 -8.4,-1.15 Z",
                  "M-8.4,-1.15 L-0.4,-1.15 Q0,-1.15 0,-0.75 L0,0.75 Q0,1.15 -0.4,1.15 L-8.4,1.15 Q-8.8,1.15 -8.8,0.75 L-8.8,-0.75 Q-8.8,-1.15 -8.4,-1.15 Z"
                ]
              }
            },
            "stroke": {
              "condition": [
                {"test": "datum.name === 'SL'", "value": "#e99797"},
                {"test": "datum.name === 'Entry'", "value": "#3a68e6"}
              ],
              "value": "#48ac8e"
            },
            "strokeWidth": {"condition": {"test": "datum.name === 'Entry'", "value": 2.2}, "value": 1.3}
          }
        },
        {
          "data": {"name": "levels"},
          "transform": [{"filter": "datum.name !== 'Entry'"}],
          "mark": {"type": "text", "align": "right", "baseline": "middle", "dx": -3, "fontSize": 14, "fontWeight": "bold"},
          "encoding": {
            "x": {"value": "width"},
            "y": {"field": "price", "type": "quantitative", "title": null},
            "text": {"field": "label"},
            "color": {"condition": {"test": "datum.name === 'SL'", "value": "#e05656"}, "value": "#1f9c77"}
          }
        },
        {
          "data": {"name": "levels"},
          "transform": [{"filter": "datum.name === 'Entry'"}],
          "mark": {"type": "text", "align": "right", "baseline": "middle", "dx": -6, "fontSize": 14, "fontWeight": "bold", "color": "#3865df"},
          "encoding": {
            "x": {"value": "width"},
            "y": {"field": "price", "type": "quantitative", "title": null},
            "text": {"field": "label"}
          }
        }
      ]
    },
    {
      "width": 1051,
      "height": 161,
      "data": {"name": "ohlc"},
      "mark": {"type": "bar", "size": 2.8},
      "encoding": {
        "x": {
          "field": "t", "type": "temporal", "title": null,
          "scale": {"domain": [{"year": 2025, "month": 8, "date": 16, "hours": 4, "minutes": 14}, {"year": 2025, "month": 8, "date": 28, "hours": 16, "minutes": 30}], "padding": 0, "nice": false},
          "axis": {
            "format": "%d %b %H:%M", "labelFontSize": 17.5, "labelPadding": 5, "labelFlush": false, "labelOverlap": false, "labelAngle": 0, "grid": true,
            "values": [
              {"year": 2025, "month": 8, "date": 16, "hours": 5},
              {"year": 2025, "month": 8, "date": 18, "hours": 7},
              {"year": 2025, "month": 8, "date": 20, "hours": 9},
              {"year": 2025, "month": 8, "date": 22, "hours": 11},
              {"year": 2025, "month": 8, "date": 24, "hours": 13},
              {"year": 2025, "month": 8, "date": 26, "hours": 15}
            ]
          }
        },
        "y": {
          "field": "v", "type": "quantitative",
          "scale": {"domain": [0, 5.14], "nice": false},
          "axis": {"values": [2, 4], "labelFontSize": 17, "labelPadding": 5, "title": "10⁶", "titleFontSize": 24, "titleFontWeight": "normal", "titleColor": "#262626", "titlePadding": 8, "grid": true}
        },
        "color": {"condition": {"test": "datum.c >= datum.o", "value": "#2196a6"}, "value": "#8b6388"}
      }
    }
  ]
}
